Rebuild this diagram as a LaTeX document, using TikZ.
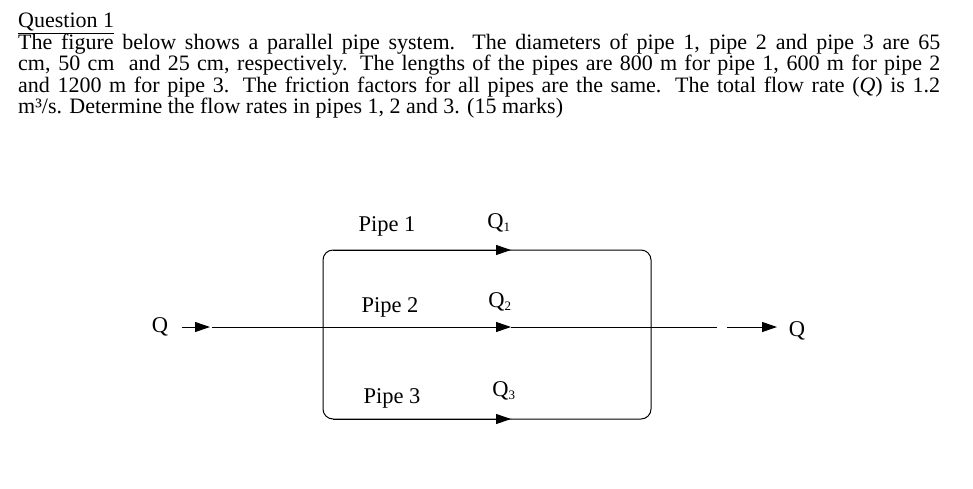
\documentclass[tikz,border=0pt]{standalone}
\usepackage{fontspec}
\setmainfont{Liberation Serif}
\usetikzlibrary{arrows.meta}
\begin{document}
\begin{tikzpicture}[x=1pt,y=-1pt,
  pipe/.style={line width=1pt},
  flow/.style={line width=1pt,-{Triangle[length=15pt,width=10pt]}},
  lbl/.style={font=\fontsize{22.5}{24}\selectfont,inner sep=0pt}]
\useasboundingbox (0,0) rectangle (973,488);
\node[anchor=north west,inner sep=0pt,text width=922pt,align=justify,
  font=\fontsize{22}{21.5}\selectfont] (txt) at (18,13)
{\underline{Question 1}\\
The figure below shows a parallel pipe system. The diameters of pipe 1, pipe 2 and pipe 3 are 65\linebreak
cm, 50 cm\ \ and 25 cm, respectively. The lengths of the pipes are 800 m for pipe 1, 600 m for pipe 2\linebreak
and 1200 m for pipe 3. The friction factors for all pipes are the same. The total flow rate (\textit{Q}) is 1.2\linebreak
m³/s. Determine the flow rates in pipes 1, 2 and 3. (15 marks)};
% corners
\coordinate (tl) at (323,250); \coordinate (tr) at (651,250);
\coordinate (bl) at (323,419); \coordinate (br) at (651,419);
\coordinate (t1) at (511,250); \coordinate (b1) at (511,419);
\coordinate (ml) at (212,327); \coordinate (mr) at (717,327);
\coordinate (m1) at (511,327);
\coordinate (ia) at (182,327); \coordinate (ib) at (210,327);
\coordinate (oa) at (727,327); \coordinate (ob) at (777,327);
\draw[pipe,rounded corners=10pt] (t1) -- (tl) -- (bl) -- (b1);
\draw[pipe,rounded corners=10pt] (t1) -- (tr) -- (br) -- (b1);
\draw[flow] (tl) ++(10,0) -- (t1);
\draw[flow] (bl) ++(10,0) -- (b1);
\draw[pipe] (m1) -- (mr);
\draw[flow] (ml) -- (m1);
\draw[flow] (ia) -- (ib);
\draw[flow] (oa) -- (ob);
\node[lbl] (qin) at (160,327) {Q};
\node[lbl] (qout) at (797,331) {Q};
\node[lbl] (p1) at (387,226) {Pipe 1};
\node[lbl] (p2) at (390,307) {Pipe 2};
\node[lbl] (p3) at (392,398) {Pipe 3};
\node[lbl] (q1) at (499,223) {Q\textsubscript{\fontsize{13}{13}\selectfont 1}};
\node[lbl] (q2) at (500,302) {Q\textsubscript{\fontsize{13}{13}\selectfont 2}};
\node[lbl] (q3) at (504,391) {Q\textsubscript{\fontsize{13}{13}\selectfont 3}};
\end{tikzpicture}
\end{document}
